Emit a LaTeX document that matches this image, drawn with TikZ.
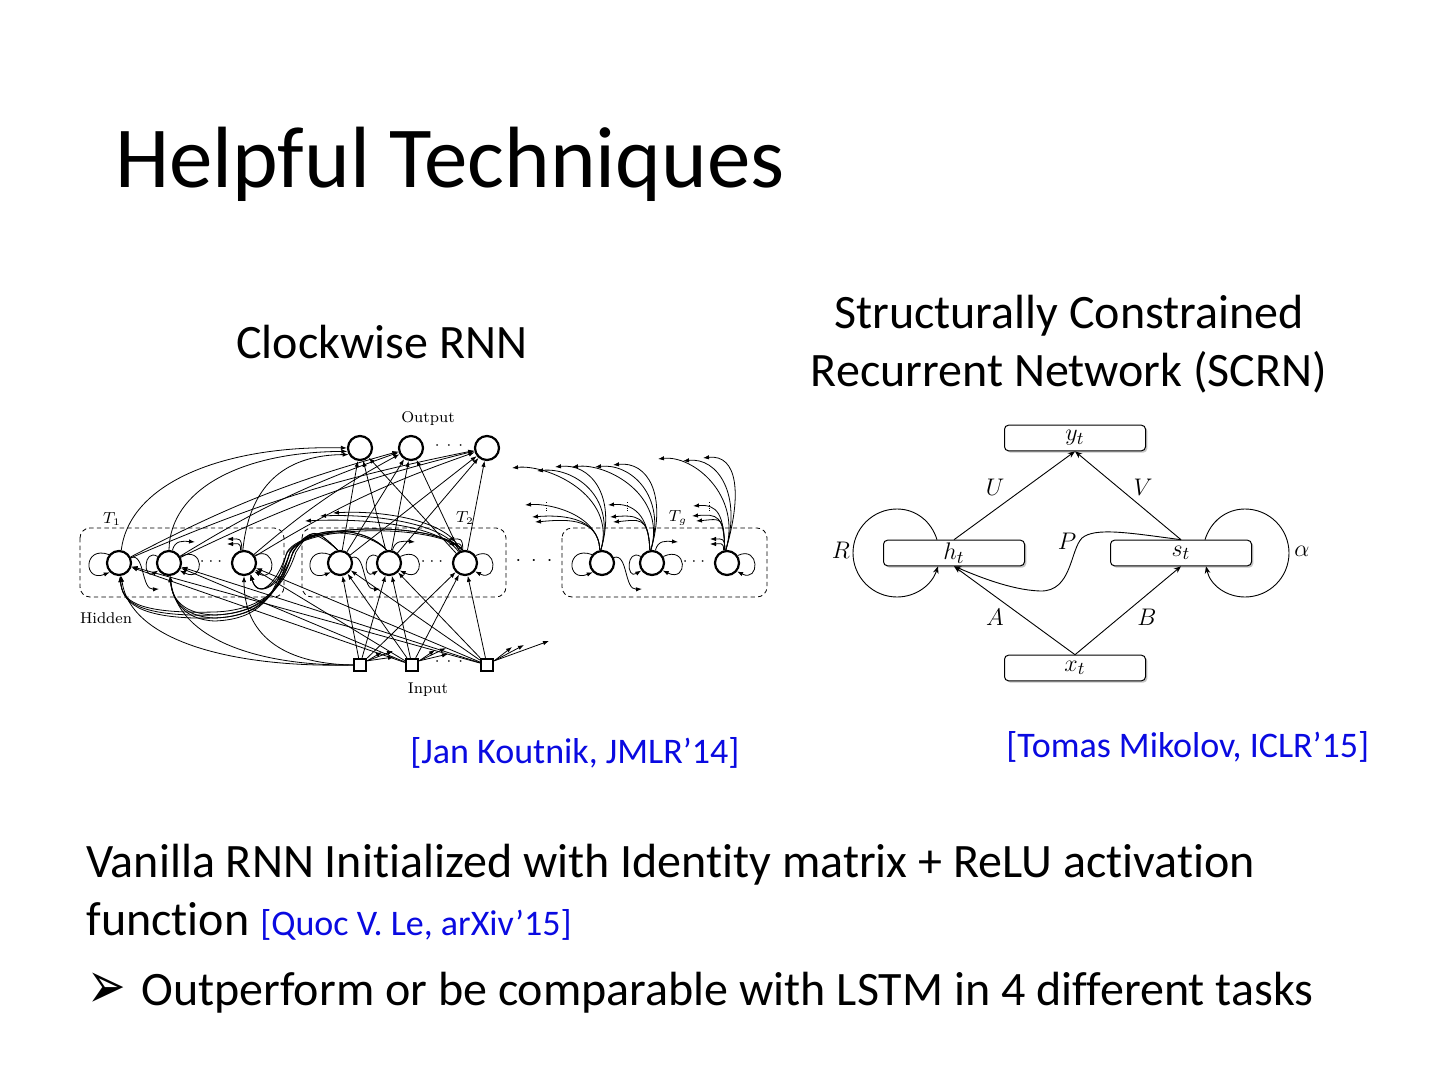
\documentclass[tikz,border=0pt]{standalone}
\usepackage{fontspec}
\newfontfamily\calib{Carlito}[Ligatures={NoCommon}]
\newfontfamily\dejavu{DejaVu Sans}
\usetikzlibrary{arrows.meta,shadows}
\pgfdeclarelayer{bg}
\pgfdeclarelayer{edges}
\pgfsetlayers{bg,edges,main}
\definecolor{citeblue}{RGB}{10,10,225}
\begin{document}
\begin{tikzpicture}[x=0.5pt,y=-0.5pt,
  slide/.style={inner sep=0pt,anchor=base west,font=\calib\fontsize{#1}{#1}\selectfont},
  neuron/.style={circle,draw,line width=1.1pt,minimum size=12pt,inner sep=0pt,fill=white},
  inpnode/.style={rectangle,draw,line width=0.9pt,minimum size=6.3pt,inner sep=0pt,fill=white},
  cw/.style={line width=0.4pt,-{Latex[length=3pt,width=2.2pt]}},
  grp/.style={draw,dash pattern=on 2.2pt off 1.6pt,rounded corners=5pt,line width=0.4pt},
  tiny/.style={inner sep=0pt,font=\fontsize{7.8}{9}\selectfont},
  sbox/.style={draw,rounded corners=2pt,minimum width=70.5pt,minimum height=12.8pt,inner sep=0pt,fill=white,line width=0.5pt,
     drop shadow={shadow xshift=0.9pt,shadow yshift=-0.9pt,fill=black!45},font=\fontsize{12.5}{13}\selectfont},
  sl/.style={inner sep=0pt,font=\fontsize{12.5}{13}\selectfont},
  sc/.style={line width=0.45pt,-{Stealth[length=3.6pt,width=2.8pt]}}
]
\useasboundingbox (0,0) rectangle (1440,1080);
\begin{pgfonlayer}{bg}
\fill[white] (0,0) rectangle (1440,1080);
\end{pgfonlayer}

% ---------------- slide texts
\node[slide=43.5] (title) at (115,188) {Helpful Techniques};
\node[slide=24] (cwt) at (236,359) {Clockwise RNN};
\node[slide=24,anchor=base] (sc1) at (1069,329) {Structurally Constrained};
\node[slide=24,anchor=base] (sc2) at (1069,387) {Recurrent Network (SCRN)};
\node[slide=18,text=citeblue] (cit1) at (410,763) {[Jan Koutnik, JMLR’14]};
\node[slide=18,text=citeblue] (cit2) at (1006,757) {[Tomas Mikolov, ICLR’15]};
\node[slide=24] (b1) at (86,877) {Vanilla RNN Initialized with Identity matrix + ReLU activation};
\node[slide=24] (b2) at (86,935) {function {\fontsize{18}{18}\selectfont\color{citeblue}[Quoc V. Le, arXiv’15]}};
\node[inner sep=0pt,anchor=base west,font=\dejavu\bfseries\fontsize{23}{23}\selectfont] (bul) at (87,1008) {\scalebox{1}[1.45]{➢}};
\node[slide=24] (b3) at (141,1005) {Outperform or be comparable with LSTM in 4 different tasks};

% ---------------- Clockwise RNN nodes
\node[neuron] (o1) at (360,448) {};
\node[neuron] (o2) at (411,448) {};
\node[neuron] (o3) at (487,448) {};
\node[neuron] (h11) at (119,563) {};
\node[neuron] (h12) at (169,563) {};
\node[neuron] (h13) at (244,563) {};
\node[neuron] (h21) at (340,563) {};
\node[neuron] (h22) at (389,563) {};
\node[neuron] (h23) at (465,563) {};
\node[neuron] (hg1) at (602,563) {};
\node[neuron] (hg2) at (652,563) {};
\node[neuron] (hg3) at (727,563) {};
\node[inpnode] (i1) at (360,665) {};
\node[inpnode] (i2) at (412,665) {};
\node[inpnode] (i3) at (487,665) {};
\node[tiny] (lo) at (428,419) {Output};
\node[tiny] (lh) at (106,618) {Hidden};
\node[tiny] (li) at (428,690) {Input};
\node[tiny] (t1) at (112,519) {$T_1$};
\node[tiny] (t2) at (465,518) {$T_2$};
\node[tiny] (tg) at (678,518) {$T_g$};
\node[tiny] (dout) at (449,446) {${\cdot}\hspace{3.5pt}{\cdot}\hspace{3.5pt}{\cdot}$};
\node[tiny] (dinp) at (449,662) {${\cdot}\hspace{3.5pt}{\cdot}\hspace{3.5pt}{\cdot}$};
\node[tiny] (dg1) at (211,562) {${\cdot}\hspace{2pt}{\cdot}\hspace{2pt}{\cdot}$};
\node[tiny] (dg2) at (432,562) {${\cdot}\hspace{2pt}{\cdot}\hspace{2pt}{\cdot}$};
\node[tiny] (dgg) at (694,562) {${\cdot}\hspace{2pt}{\cdot}\hspace{2pt}{\cdot}$};
\node[inner sep=0pt,font=\fontsize{10}{10}\selectfont] (dmid) at (534,561) {${\cdot}\hspace{5pt}{\cdot}\hspace{5pt}{\cdot}$};

\begin{pgfonlayer}{edges}
\draw[grp] (80,528) rectangle (284,597);
\draw[grp] (302,528) rectangle (506,597);
\draw[grp] (562,528) rectangle (767,597);

% group 2 -> outputs, inputs -> group 2
\foreach \h in {h21,h22,h23}{\foreach \o in {o1,o2,o3}{\draw[cw] (\h) -- (\o);}}
\foreach \i in {i1,i2,i3}{\foreach \h in {h21,h22,h23}{\draw[cw] (\i) -- (\h);}}

% group 1 -> outputs
\draw[cw] (h11.80) .. controls (130,480) and (230,445) .. (o1.180);
\draw[cw] (h12.90) .. controls (170,490) and (240,452) .. (o1.195);
\draw[cw] (h13.95) .. controls (250,480) and (290,455) .. (o1.210);
\foreach \h in {h11,h12,h13}{\foreach \o in {o2,o3}{\draw[cw] (\h) to[bend left=6] (\o);}}

% inputs -> group 1
\draw[cw] (i1.west) .. controls (230,668) and (130,640) .. (h11.-80);
\draw[cw] (i1.west) .. controls (260,666) and (178,640) .. (h12.-85);
\draw[cw] (i1.west) .. controls (290,664) and (244,640) .. (h13.-90);
\foreach \i in {i2,i3}{\foreach \h in {h11,h12,h13}{\draw[cw] (\i) -- (\h);}}

% group 2 -> group 1 (bundle)
\foreach \j/\jx/\d in {h21/340/0,h22/389/3,h23/465/6}{
  \foreach \k/\kx/\e in {h11/119/0,h12/169/3}{
    \draw[cw] (\j.100) .. controls (\jx-25,528-\d) and (312-\d,527-\d) .. (296-\d-\e,552)
       .. controls (285-\d-\e,585+\d) and (265,610+\d+\e) .. (215,612+\d+\e)
       .. controls (\kx+15,614+\d) and (\kx+3,600) .. (\k.-85);
  }
  \draw[cw] (\j.100) .. controls (\jx-25,530-\d) and (305-\d,529-\d) .. (292-\d,555)
       .. controls (282-\d,585) and (258,600) .. (h13.-60);
}

% group 2 truncated arrows to the left
\draw[cw] (h23.110) .. controls (450,520) and (380,510) .. (333,513);
\draw[cw] (h23.115) .. controls (445,522) and (370,514) .. (320,516);
\draw[cw] (h23.120) .. controls (440,524) and (360,518) .. (305,521);

% intra-group connections
\foreach \a/\b/\c/\ax/\bx/\cx in {h11/h12/h13/119/169/244,h21/h22/h23/340/389/465,hg1/hg2/hg3/602/652/727}{
  \draw[cw] (\a.140) .. controls (\ax-36,545) and (\ax-36,583) .. (\a.-135);
  \draw[cw] (\a.25) .. controls (\ax+26,553) and (\ax+22,590) .. (\ax+40,589);
  \draw[cw] (\b.150) .. controls (\bx-26,548) and (\bx-26,580) .. (\b.-145);
  \draw[cw] (\b.30) .. controls (\bx+36,545) and (\bx+36,583) .. (\b.-35);
  \draw[cw] (\b.75) .. controls (\bx+6,540) and (\bx+14,541) .. (\bx+26,542);
  \draw[cw] (\c.35) .. controls (\cx+33,545) and (\cx+33,583) .. (\c.-40);
  \draw[cw] (\c.100) .. controls (\cx-2,537) and (\cx-6,539) .. (\cx-17,539);
  \draw[cw] (\c.105) .. controls (\cx-3,541) and (\cx-8,544) .. (\cx-17,544);
}

% group g truncated arrows
\foreach \g/\gx/\tx/\ty in {hg1/602/512/468,hg1/602/537/471,hg1/602/555/467,hg2/652/572/467,hg2/652/595/467,hg2/652/613/465,hg3/727/658/459,hg3/727/683/461,hg3/727/703/458}{
  \draw[cw] (\g.95) .. controls (\gx+15,495) and (\tx+35,\ty-4) .. (\tx,\ty);
}
\foreach \g/\gx/\tx/\ty in {hg1/602/525/505,hg1/602/532/517,hg1/602/535/522,hg2/652/608/505,hg2/652/610/517,hg2/652/613/522,hg3/727/693/506,hg3/727/692/516,hg3/727/696/521}{
  \draw[cw] (\g.100) .. controls (\gx-3,515) and (\tx+25,\ty-2) .. (\tx,\ty);
}
\draw[densely dotted,line width=0.4pt] (546,502) -- (546,513);
\draw[densely dotted,line width=0.4pt] (627,502) -- (627,513);
\draw[densely dotted,line width=0.4pt] (709,502) -- (709,513);

% inputs truncated arrows
\foreach \i/\tx/\ty in {i1/382/652,i1/393/651,i1/394/657,i2/435/650,i2/446/648,i2/448/654,i3/512/647,i3/524/645,i3/549/641}{
  \draw[cw] (\i.30) -- (\tx,\ty);
}
\end{pgfonlayer}

% ---------------- SCRN
\node[sbox] (yt) at (1075,438) {$y_t$};
\node[sbox] (ht) at (954,553) {$h_t$};
\node[sbox] (st) at (1181,553) {$s_t$};
\node[sbox] (xt) at (1075,668) {$x_t$};
\node[sl] (lU) at (995,487) {$U$};
\node[sl] (lV) at (1143,487) {$V$};
\node[sl] (lR) at (841,550) {$R$};
\node[sl] (la) at (1302,551) {$\alpha$};
\node[sl] (lP) at (1067,541) {$P$};
\node[sl] (lA) at (995,617) {$A$};
\node[sl] (lB) at (1147,617) {$B$};

\draw[sc] (ht.north) -- (yt.south);
\draw[sc] (st.north) -- (yt.south);
\draw[sc] (xt.north) -- (ht.south);
\draw[sc] (xt.north) -- (st.south);
\draw[sc] (st.north) .. controls (1130,533) and (1095,527) .. (1082,538)
   .. controls (1070,550) and (1072,592) .. (1040,591)
   .. controls (1010,590) and (975,575) .. (ht.south);
\draw[sc] ([xshift=-8.5pt]ht.north) .. controls (931.4,521.5) and (916,509) .. (897,509)
   .. controls (872.7,509) and (853,528.7) .. (853,553)
   .. controls (853,577.3) and (872.7,597) .. (897,597)
   .. controls (915.5,597) and (931.7,585.4) .. ([xshift=-8pt]ht.south);
\draw[sc] ([xshift=12pt]st.north) .. controls (1210.6,521.5) and (1226,509) .. (1245,509)
   .. controls (1269.3,509) and (1289,528.7) .. (1289,553)
   .. controls (1289,577.3) and (1269.3,597) .. (1245,597)
   .. controls (1226.5,597) and (1210.3,585.4) .. ([xshift=12.5pt]st.south);
\end{tikzpicture}
\end{document}
